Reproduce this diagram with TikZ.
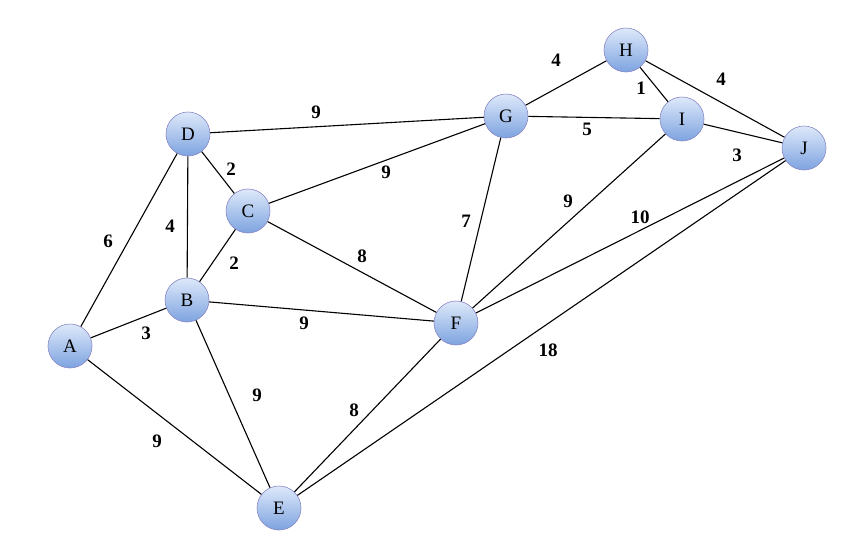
\documentclass[tikz,border=0pt]{standalone}
\usepackage{fontspec}
\setmainfont{Liberation Serif}
\begin{document}
\begin{tikzpicture}[x=1pt,y=-1pt,
  vert/.style={circle,minimum size=44pt,inner sep=0pt,draw=blue!35!gray!70,line width=0.6pt,
    top color={rgb,255:red,222;green,233;blue,250},bottom color={rgb,255:red,125;green,163;blue,224},
    font=\fontsize{19}{19}\selectfont},
  wt/.style={font=\fontsize{19}{19}\selectfont\bfseries},
  edge/.style={line width=1.1pt}]
\useasboundingbox (0,0) rectangle (858,544);
\node[vert] (A) at (70,346) {A};
\node[vert] (B) at (187,300) {B};
\node[vert] (C) at (248,211) {C};
\node[vert] (D) at (188,134) {D};
\node[vert] (E) at (279,508) {E};
\node[vert] (F) at (456,323) {F};
\node[vert] (G) at (506,116) {G};
\node[vert] (H) at (626,50) {H};
\node[vert] (I) at (682,119) {I};
\node[vert] (J) at (804,148) {J};
\begin{scope}[on background layer/.style={}]
\end{scope}
\foreach \a/\b in {D/G,D/C,C/G,D/B,A/D,C/B,C/F,G/F,H/G,H/I,H/J,G/I,I/J,I/F,J/F,B/F,A/B,B/E,F/E,A/E,J/E}
  \draw[edge] (\a) -- (\b);
\node[wt] (l1) at (316,112) {9};
\node[wt] (l2) at (231,169) {2};
\node[wt] (l3) at (386,172) {9};
\node[wt] (l4) at (170,226) {4};
\node[wt] (l5) at (108,241) {6};
\node[wt] (l6) at (234,263) {2};
\node[wt] (l7) at (362,256) {8};
\node[wt] (l8) at (466,221) {7};
\node[wt] (l9) at (556,60) {4};
\node[wt] (l10) at (641,88) {1};
\node[wt] (l11) at (721,79) {4};
\node[wt] (l12) at (587,129) {5};
\node[wt] (l13) at (737,155) {3};
\node[wt] (l14) at (568,201) {9};
\node[wt] (l15) at (640,217) {10};
\node[wt] (l16) at (304,323) {9};
\node[wt] (l17) at (146,333) {3};
\node[wt] (l18) at (257,395) {9};
\node[wt] (l19) at (354,410) {8};
\node[wt] (l20) at (157,441) {9};
\node[wt] (l21) at (548,350) {18};
\end{tikzpicture}
\end{document}
